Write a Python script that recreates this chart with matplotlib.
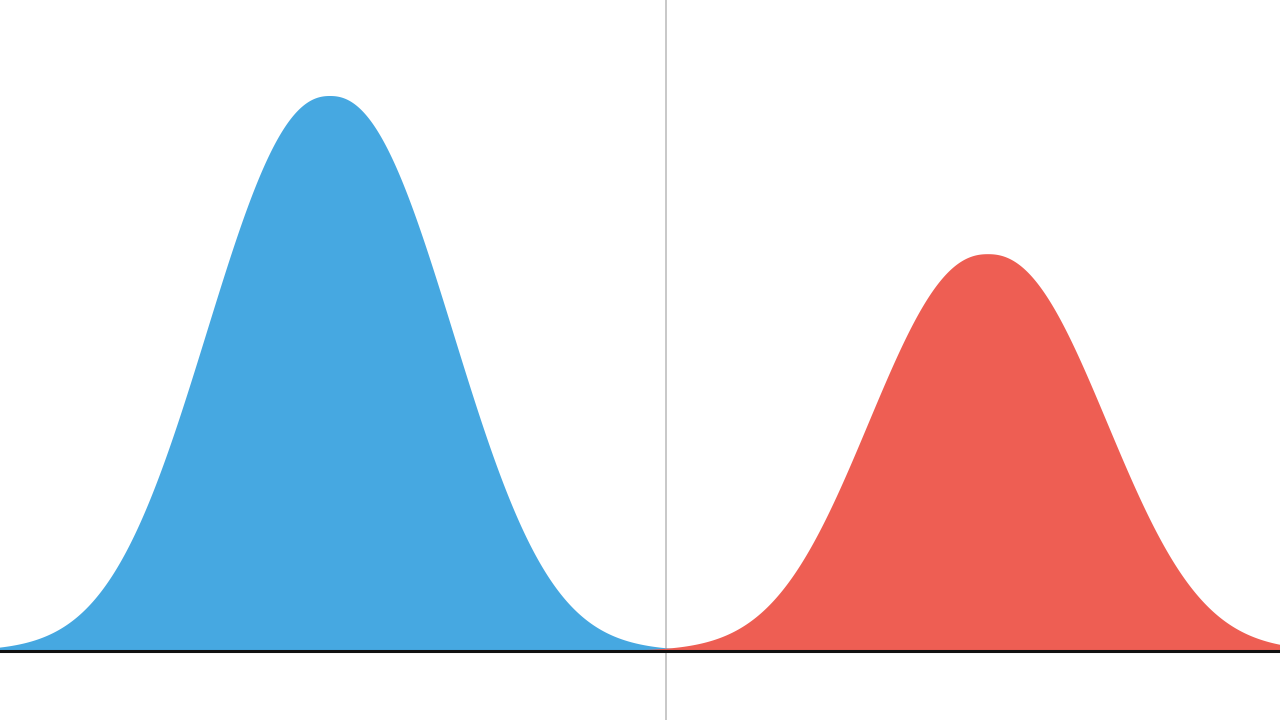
import numpy as np
import matplotlib
matplotlib.use("Agg")
import matplotlib.pyplot as plt

# Bell-curve parameters (x in units of 100 px, vertical divider at 0)
series_names = ["blue", "red"]
means = [-3.36, 3.22]
scales = [1.176, 1.14]
peaks = [1.0, 0.715]
shape_exponent = 2.25
colors = ["#46A8E1", "#EE5E53"]
x_range = (-6.66, 6.14)

fig = plt.figure(figsize=(12.8, 7.2), dpi=100)
ax = fig.add_axes([0, 0, 1, 1])

x = np.linspace(x_range[0], x_range[1], 3000)
for m, s, p, c in zip(means, scales, peaks, colors):
    y = p * np.exp(-0.5 * np.abs((x - m) / s) ** shape_exponent)
    ax.fill_between(x, 0, y, color=c, linewidth=0, zorder=2)

ax.axvline(0, color="#c4c4c4", linewidth=1.3, zorder=1)
ax.axhline(0, color="#111111", linewidth=2.2, zorder=3)

ax.set_xlim(*x_range)
ax.set_ylim(-69 / 555, 651 / 555)
ax.axis("off")

fig.savefig("out.png", dpi=100)
